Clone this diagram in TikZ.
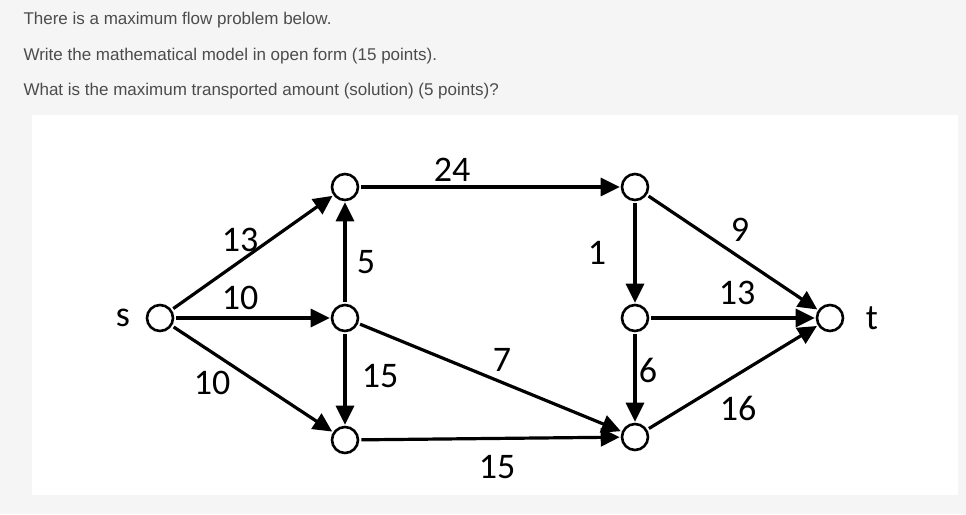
\documentclass[tikz,border=0pt]{standalone}
\usepackage{fontspec}
\setmainfont{Carlito}
\newfontfamily\uifont{Liberation Sans}
\usetikzlibrary{arrows.meta}
\begin{document}
\begin{tikzpicture}[x=1pt,y=-1pt,
  vert/.style={circle,draw,line width=2.6pt,minimum size=26pt,inner sep=0pt,fill=white},
  edge/.style={line width=3.2pt,-{Triangle[length=19pt,width=18pt]},shorten >=1pt,shorten <=2pt},
  lbl/.style={font=\fontsize{36}{38}\selectfont},
  q/.style={anchor=west,text=black!70,font=\uifont\fontsize{17}{18}\selectfont}]
\fill[black!4] (0,0) rectangle (966,514);
\fill[white] (32,115) rectangle (958,495);
\useasboundingbox (0,0) rectangle (966,514);
\node[q] (q1) at (20,20) {There is a maximum flow problem below.};
\node[q] (q2) at (20,56) {Write the mathematical model in open form (15 points).};
\node[q] (q3) at (20,91) {What is the maximum transported amount (solution) (5 points)?};
\node[vert] (s) at (160,318) {};
\node[vert] (a) at (345,187) {};
\node[vert] (b) at (345,318) {};
\node[vert] (c) at (345,440) {};
\node[vert] (d) at (635,187) {};
\node[vert] (e) at (635,318) {};
\node[vert] (f) at (635,437) {};
\node[vert] (t) at (830,318) {};
\node[lbl] (ls) at (123,318) {s};
\node[lbl] (lt) at (872,318) {t};
\draw[edge] (s) -- (a);
\draw[edge] (s) -- (b);
\draw[edge] (s) -- (c);
\draw[edge] (b) -- (a);
\draw[edge] (b) -- (c);
\draw[edge] (a) -- (d);
\draw[edge] (b) -- (f);
\draw[edge] (c) -- (f);
\draw[edge] (d) -- (e);
\draw[edge] (e) -- (f);
\draw[edge] (d) -- (t);
\draw[edge] (e) -- (t);
\draw[edge] (f) -- (t);
\node[lbl] (l1) at (452,170) {24};
\node[lbl] (l2) at (240,240) {13};
\node[lbl] (l3) at (240,298) {10};
\node[lbl] (l4) at (212,383) {10};
\node[lbl] (l5) at (366,262) {5};
\node[lbl] (l6) at (380,376) {15};
\node[lbl] (l7) at (502,360) {7};
\node[lbl] (l8) at (497,467) {15};
\node[lbl] (l9) at (597,253) {1};
\node[lbl] (l10) at (648,370) {6};
\node[lbl] (l11) at (740,230) {9};
\node[lbl] (l12) at (737,293) {13};
\node[lbl] (l13) at (738,408) {16};
\end{tikzpicture}
\end{document}
